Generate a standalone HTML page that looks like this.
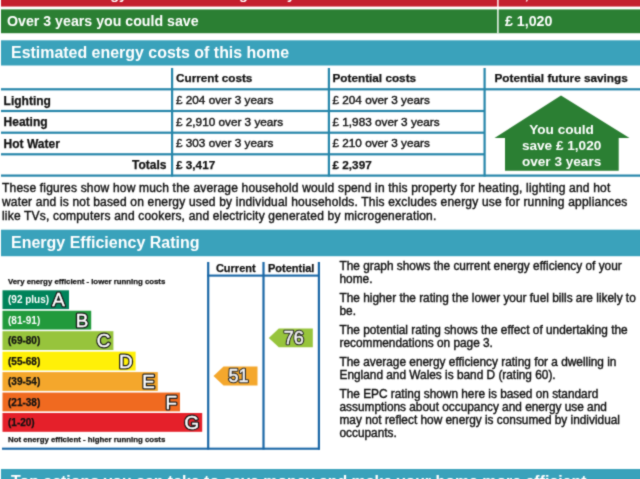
<!DOCTYPE html>
<html><head><meta charset="utf-8"><title>Energy Performance Certificate</title>
<style>
html,body{margin:0;padding:0;background:#fff;}
body{width:640px;height:479px;overflow:hidden;position:relative;}
svg{position:absolute;left:-10px;top:-10px;display:block;font-family:"Liberation Sans",Arial,sans-serif;}
</style></head><body>
<svg width="660" height="499" viewBox="-10 -10 660 499">
<defs><filter id="soft" x="0" y="0" width="100%" height="100%" filterUnits="objectBoundingBox" color-interpolation-filters="sRGB"><feConvolveMatrix order="3" kernelMatrix="0.03 0.1 0.03 0.1 0.48 0.1 0.03 0.1 0.03" edgeMode="duplicate" preserveAlpha="false"/></filter></defs>
<rect x="-10" y="-10" width="660" height="499" fill="#fff"/>
<g filter="url(#soft)">
<rect x="-10" y="-10" width="660" height="499" fill="#fff"/>
<rect x="1" y="-18" width="655" height="24.55" fill="#c41e2e" />
<text x="7" y="-1" font-size="14.4" fill="#fff" font-weight="bold">Estimated energy costs of dwelling for 3 years:</text>
<text x="505" y="-1" font-size="14.2" fill="#fff" font-weight="bold">£ 3,417</text>
<rect x="1" y="9.4" width="655" height="23.8" fill="#2b7f33" />
<text x="7" y="26" font-size="14.2" fill="#fff" font-weight="bold">Over 3 years you could save</text>
<text x="505" y="26" font-size="14.2" fill="#fff" font-weight="bold">£ 1,020</text>
<rect x="497.2" y="-18" width="1.4" height="51.1" fill="#fff" />
<rect x="1" y="40.3" width="655" height="25.2" fill="#3aa2bb" />
<text x="11" y="58" font-size="15.95" fill="#fff" font-weight="bold">Estimated energy costs of this home</text>
<rect x="1" y="109.9" width="484" height="2.2" fill="#2686aa" />
<rect x="1" y="131.6" width="484" height="2.2" fill="#2686aa" />
<rect x="1" y="153.20000000000002" width="484" height="2.2" fill="#2686aa" />
<rect x="1" y="88.2" width="655" height="2.2" fill="#2686aa" />
<rect x="1" y="174.5" width="655" height="2.2" fill="#2686aa" />
<rect x="171.0" y="68" width="2.2" height="108.6" fill="#2686aa" />
<rect x="327.79999999999995" y="68" width="2.2" height="108.6" fill="#2686aa" />
<rect x="483.5" y="68" width="2.2" height="108.6" fill="#2686aa" />
<text x="176" y="82" font-size="11.75" fill="#111" font-weight="bold" stroke="#111" stroke-width="0.25">Current costs</text>
<text x="332.5" y="82" font-size="11.75" fill="#111" font-weight="bold" stroke="#111" stroke-width="0.25">Potential costs</text>
<text x="494.5" y="82" font-size="11.75" fill="#111" font-weight="bold" stroke="#111" stroke-width="0.25">Potential future savings</text>
<text x="3.6" y="105" font-size="12.0" fill="#111" font-weight="bold" stroke="#111" stroke-width="0.25">Lighting</text>
<text x="176" y="104" font-size="11.75" fill="#111" stroke="#111" stroke-width="0.4">£ 204 over 3 years</text>
<text x="332.5" y="104" font-size="11.75" fill="#111" stroke="#111" stroke-width="0.4">£ 204 over 3 years</text>
<text x="3.6" y="126" font-size="12.0" fill="#111" font-weight="bold" stroke="#111" stroke-width="0.25">Heating</text>
<text x="176" y="126" font-size="11.75" fill="#111" stroke="#111" stroke-width="0.4">£ 2,910 over 3 years</text>
<text x="332.5" y="126" font-size="11.75" fill="#111" stroke="#111" stroke-width="0.4">£ 1,983 over 3 years</text>
<text x="3.6" y="148" font-size="12.0" fill="#111" font-weight="bold" stroke="#111" stroke-width="0.25">Hot Water</text>
<text x="176" y="147" font-size="11.75" fill="#111" stroke="#111" stroke-width="0.4">£ 303 over 3 years</text>
<text x="332.5" y="147" font-size="11.75" fill="#111" stroke="#111" stroke-width="0.4">£ 210 over 3 years</text>
<text x="166.5" y="169" font-size="12.0" fill="#111" font-weight="bold" stroke="#111" stroke-width="0.25" text-anchor="end">Totals</text>
<text x="176" y="169" font-size="11.75" fill="#111" font-weight="bold" stroke="#111" stroke-width="0.25">£ 3,417</text>
<text x="332.5" y="169" font-size="11.75" fill="#111" font-weight="bold" stroke="#111" stroke-width="0.25">£ 2,397</text>
<polygon points="561,95.5 629.5,138 618.7,138 618.7,170.8 505,170.8 505,138 494.5,138" fill="#2b7f33"/>
<text x="561.6" y="134" font-size="13.6" fill="#fff" font-weight="bold" text-anchor="middle">You could</text>
<text x="561.6" y="150" font-size="13.6" fill="#fff" font-weight="bold" text-anchor="middle">save £ 1,020</text>
<text x="561.6" y="166" font-size="13.6" fill="#fff" font-weight="bold" text-anchor="middle">over 3 years</text>
<text x="2" y="192" font-size="12" fill="#111" stroke="#111" stroke-width="0.4" letter-spacing="0.186">These figures show how much the average household would spend in this property for heating, lighting and hot</text>
<text x="2" y="206" font-size="12" fill="#111" stroke="#111" stroke-width="0.4" letter-spacing="0.186">water and is not based on energy used by individual households. This excludes energy use for running appliances</text>
<text x="2" y="220" font-size="12" fill="#111" stroke="#111" stroke-width="0.4" letter-spacing="0.186">like TVs, computers and cookers, and electricity generated by microgeneration.</text>
<rect x="1" y="229.7" width="655" height="26.5" fill="#3aa2bb" />
<text x="11" y="248" font-size="16" fill="#fff" font-weight="bold">Energy Efficiency Rating</text>
<text x="8" y="284" font-size="7.8" fill="#111" font-weight="bold" stroke="#111" stroke-width="0.25">Very energy efficient - lower running costs</text>
<text x="8" y="442" font-size="7.8" fill="#111" font-weight="bold" stroke="#111" stroke-width="0.25">Not energy efficient - higher running costs</text>
<rect x="2.5" y="290.3" width="66.5" height="18.8" fill="#00835a" />
<text x="8" y="303" font-size="10" fill="#fff" font-weight="bold">(92 plus)</text>
<text x="64.8" y="306" text-anchor="end" font-size="18.8" fill="#1a1a1a" stroke="#1a1a1a" stroke-width="3.0" stroke-linejoin="round">A</text>
<text x="64.8" y="306" text-anchor="end" font-size="18.8" fill="#fff" stroke="#fff" stroke-width="0.4" stroke-linejoin="round">A</text>
<rect x="2.5" y="310.75" width="88.7" height="18.8" fill="#229a3c" />
<text x="8" y="324" font-size="10" fill="#fff" font-weight="bold">(81-91)</text>
<text x="88.2" y="327" text-anchor="end" font-size="18.8" fill="#1a1a1a" stroke="#1a1a1a" stroke-width="3.0" stroke-linejoin="round">B</text>
<text x="88.2" y="327" text-anchor="end" font-size="18.8" fill="#fff" stroke="#fff" stroke-width="0.4" stroke-linejoin="round">B</text>
<rect x="2.5" y="331.2" width="110.9" height="18.8" fill="#97c43c" />
<text x="8" y="344" font-size="10" fill="#111" font-weight="bold" stroke="#111" stroke-width="0.25">(69-80)</text>
<text x="110.4" y="347" text-anchor="end" font-size="18.8" fill="#1a1a1a" stroke="#1a1a1a" stroke-width="3.0" stroke-linejoin="round">C</text>
<text x="110.4" y="347" text-anchor="end" font-size="18.8" fill="#fff" stroke="#fff" stroke-width="0.4" stroke-linejoin="round">C</text>
<rect x="2.5" y="351.65" width="133.1" height="18.8" fill="#fff008" />
<text x="8" y="365" font-size="10" fill="#111" font-weight="bold" stroke="#111" stroke-width="0.25">(55-68)</text>
<text x="132.6" y="368" text-anchor="end" font-size="18.8" fill="#1a1a1a" stroke="#1a1a1a" stroke-width="3.0" stroke-linejoin="round">D</text>
<text x="132.6" y="368" text-anchor="end" font-size="18.8" fill="#fff" stroke="#fff" stroke-width="0.4" stroke-linejoin="round">D</text>
<rect x="2.5" y="372.1" width="155.3" height="18.8" fill="#f4a72c" />
<text x="8" y="385" font-size="10" fill="#111" font-weight="bold" stroke="#111" stroke-width="0.25">(39-54)</text>
<text x="154.8" y="388" text-anchor="end" font-size="18.8" fill="#1a1a1a" stroke="#1a1a1a" stroke-width="3.0" stroke-linejoin="round">E</text>
<text x="154.8" y="388" text-anchor="end" font-size="18.8" fill="#fff" stroke="#fff" stroke-width="0.4" stroke-linejoin="round">E</text>
<rect x="2.5" y="392.55" width="177.5" height="18.8" fill="#f06a20" />
<text x="8" y="406" font-size="10" fill="#111" font-weight="bold" stroke="#111" stroke-width="0.25">(21-38)</text>
<text x="177.0" y="409" text-anchor="end" font-size="18.8" fill="#1a1a1a" stroke="#1a1a1a" stroke-width="3.0" stroke-linejoin="round">F</text>
<text x="177.0" y="409" text-anchor="end" font-size="18.8" fill="#fff" stroke="#fff" stroke-width="0.4" stroke-linejoin="round">F</text>
<rect x="2.5" y="413.0" width="199.7" height="18.8" fill="#e5202a" />
<text x="8" y="426" font-size="10" fill="#111" font-weight="bold" stroke="#111" stroke-width="0.25">(1-20)</text>
<text x="199.2" y="429" text-anchor="end" font-size="18.8" fill="#1a1a1a" stroke="#1a1a1a" stroke-width="3.0" stroke-linejoin="round">G</text>
<text x="199.2" y="429" text-anchor="end" font-size="18.8" fill="#fff" stroke="#fff" stroke-width="0.4" stroke-linejoin="round">G</text>
<rect x="207.1" y="262" width="2.2" height="187.6" fill="#1a67a6" />
<rect x="262.4" y="262" width="2.2" height="187.6" fill="#1a67a6" />
<rect x="317.79999999999995" y="262" width="2.2" height="187.6" fill="#1a67a6" />
<rect x="207.1" y="274.55" width="112.9" height="2.1" fill="#1a67a6" />
<rect x="2" y="447.65" width="318" height="2.1" fill="#1a67a6" />
<text x="235.8" y="272" font-size="11" fill="#111" font-weight="bold" stroke="#111" stroke-width="0.25" text-anchor="middle">Current</text>
<text x="291.2" y="272" font-size="11" fill="#111" font-weight="bold" stroke="#111" stroke-width="0.25" text-anchor="middle">Potential</text>
<polygon points="268.8,337.9 278.8,328.5 312.8,328.5 312.8,347.29999999999995 278.8,347.29999999999995" fill="#97c43c"/><text x="293.8" y="344" text-anchor="middle" font-size="18" fill="#2a2a2a" stroke="#2a2a2a" stroke-width="2.7" stroke-linejoin="round">76</text><text x="293.8" y="344" text-anchor="middle" font-size="18" fill="#f4f4f4" stroke="#f4f4f4" stroke-width="0.5">76</text>
<polygon points="213.5,376 223.5,366.6 257.5,366.6 257.5,385.4 223.5,385.4" fill="#f4a72c"/><text x="238.5" y="382" text-anchor="middle" font-size="18" fill="#2a2a2a" stroke="#2a2a2a" stroke-width="2.7" stroke-linejoin="round">51</text><text x="238.5" y="382" text-anchor="middle" font-size="18" fill="#f4f4f4" stroke="#f4f4f4" stroke-width="0.5">51</text>
<text x="339.5" y="270" font-size="11.85" fill="#111" stroke="#111" stroke-width="0.4">The graph shows the current energy efficiency of your</text>
<text x="339.5" y="283" font-size="11.85" fill="#111" stroke="#111" stroke-width="0.4">home.</text>
<text x="339.5" y="302" font-size="11.85" fill="#111" stroke="#111" stroke-width="0.4">The higher the rating the lower your fuel bills are likely to</text>
<text x="339.5" y="315" font-size="11.85" fill="#111" stroke="#111" stroke-width="0.4">be.</text>
<text x="339.5" y="334" font-size="11.85" fill="#111" stroke="#111" stroke-width="0.4">The potential rating shows the effect of undertaking the</text>
<text x="339.5" y="347" font-size="11.85" fill="#111" stroke="#111" stroke-width="0.4">recommendations on page 3.</text>
<text x="339.5" y="366" font-size="11.85" fill="#111" stroke="#111" stroke-width="0.4">The average energy efficiency rating for a dwelling in</text>
<text x="339.5" y="379" font-size="11.85" fill="#111" stroke="#111" stroke-width="0.4">England and Wales is band D (rating 60).</text>
<text x="339.5" y="398" font-size="11.85" fill="#111" stroke="#111" stroke-width="0.4">The EPC rating shown here is based on standard</text>
<text x="339.5" y="411" font-size="11.85" fill="#111" stroke="#111" stroke-width="0.4">assumptions about occupancy and energy use and</text>
<text x="339.5" y="424" font-size="11.85" fill="#111" stroke="#111" stroke-width="0.4">may not reflect how energy is consumed by individual</text>
<text x="339.5" y="437" font-size="11.85" fill="#111" stroke="#111" stroke-width="0.4">occupants.</text>
<rect x="1" y="469" width="655" height="26" fill="#3aa2bb" />
<text x="11" y="487" font-size="15.9" fill="#fff" font-weight="bold">Top actions you can take to save money and make your home more efficient</text>
</g></svg>
</body></html>
